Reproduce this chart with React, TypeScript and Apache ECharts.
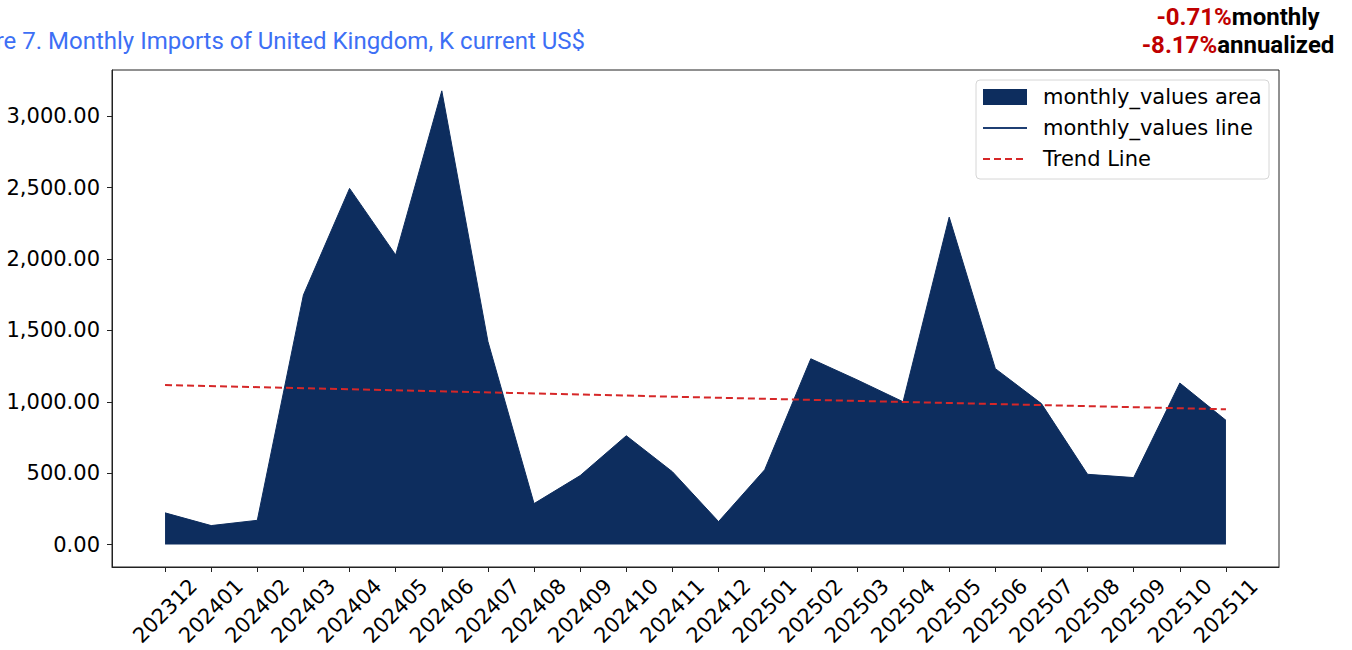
import React, { useEffect, useRef } from "react";
import * as echarts from "echarts";

const categories = [
  "202312", "202401", "202402", "202403", "202404", "202405", "202406", "202407",
  "202408", "202409", "202410", "202411", "202412", "202501", "202502", "202503",
  "202504", "202505", "202506", "202507", "202508", "202509", "202510", "202511",
];
const monthlyValues = [
  222, 133, 170, 1748, 2494, 2028, 3177, 1422,
  287, 483, 762, 510, 161, 524, 1301, 1154,
  1000, 2293, 1232, 987, 492, 469, 1131, 870,
];
const trendStart = 1117;
const trendEnd = 947;
const yTicks = [0, 500, 1000, 1500, 2000, 2500, 3000];
const titleText = "Figure 7. Monthly Imports of United Kingdom, K current US$";
const monthlyPct = "-0.71%";
const annualPct = "-8.17%";
const legendNames = ["monthly_values area", "monthly_values line", "Trend Line"];

const AREA = "#0d2d5e";
const LINE = "#1f3f73";
const TREND = "#d62728";
const TICK_FONT = "DejaVu Sans";
const FS = 21;

export default function App() {
  const ref = useRef<HTMLDivElement>(null);
  useEffect(() => {
    if (!ref.current) return;
    const chart = echarts.init(ref.current, null, { renderer: "svg" });
    const pts = monthlyValues.map((v, i) => [i, v]);
    const n = categories.length;
    const trendPts = [
      [0, trendStart],
      [n - 1, trendEnd],
    ];
    const xTicks = categories.map((_, i) => i);
    const lx = 976;
    const ly = 80;
    chart.setOption({
      animation: false,
      grid: { left: 112, right: 73, top: 70, bottom: 83, show: false },
      xAxis: {
        type: "value",
        min: -1.15,
        max: n - 1 + 1.15,
        axisLine: { show: true, onZero: false, lineStyle: { color: "#222", width: 1 } },
        axisTick: {
          show: true,
          length: 5,
          customValues: xTicks,
          lineStyle: { color: "#222" },
        },
        splitLine: { show: false },
        axisLabel: {
          customValues: xTicks,
          rotate: 45,
          align: "center",
          verticalAlign: "middle",
          margin: 44,
          fontFamily: TICK_FONT,
          fontSize: FS,
          color: "#000",
          formatter: (v: number) => categories[Math.round(v)] ?? "",
        },
      },
      yAxis: {
        type: "value",
        min: -157,
        max: 3323,
        axisLine: { show: true, onZero: false, lineStyle: { color: "#222", width: 1 } },
        axisTick: {
          show: true,
          length: 5,
          customValues: yTicks,
          lineStyle: { color: "#222" },
        },
        splitLine: { show: false },
        axisLabel: {
          customValues: yTicks,
          margin: 12,
          fontFamily: TICK_FONT,
          fontSize: FS,
          color: "#000",
          formatter: (v: number) =>
            v.toLocaleString("en-US", { minimumFractionDigits: 2, maximumFractionDigits: 2 }),
        },
      },
      series: [
        {
          name: legendNames[0],
          type: "line",
          data: pts,
          showSymbol: false,
          symbol: "none",
          lineStyle: { width: 0 },
          areaStyle: { color: AREA, opacity: 1 },
          clip: false,
          z: 2,
        },
        {
          name: legendNames[1],
          type: "line",
          data: pts,
          symbol: "none",
          lineStyle: { color: AREA, width: 1 },
          z: 3,
        },
        {
          name: legendNames[2],
          type: "line",
          data: trendPts,
          symbol: "none",
          lineStyle: { color: TREND, width: 2, type: [7, 4] },
          z: 4,
        },
      ],
      graphic: [
        {
          type: "rect",
          shape: { x: 112, y: 70, width: 1167, height: 497 },
          style: { fill: "none", stroke: "#222", lineWidth: 1 },
          silent: true,
          z: 10,
        },
        {
          type: "text",
          x: 585,
          y: 41,
          style: {
            text: titleText,
            fontFamily: "Roboto",
            fontSize: 24,
            fill: "#3d6ff5",
            align: "right",
            verticalAlign: "middle",
          },
        },
        {
          type: "text",
          x: 1238,
          y: 3,
          style: {
            text: `{r|${monthlyPct}}{b|monthly}\n{r|${annualPct}}{b|annualized}`,
            align: "center",
            verticalAlign: "top",
            rich: {
              r: { fill: "#c00000", fontFamily: "Roboto", fontWeight: "bold", fontSize: 24, lineHeight: 28 },
              b: { fill: "#000", fontFamily: "Roboto", fontWeight: "bold", fontSize: 24, lineHeight: 28 },
            },
          },
        },
        {
          type: "group",
          z: 20,
          children: [
            {
              type: "rect",
              shape: { x: lx, y: ly, width: 293, height: 99, r: 4 },
              style: { fill: "rgba(255,255,255,0.8)", stroke: "#d6d6d6", lineWidth: 1 },
            },
            {
              type: "rect",
              shape: { x: 983, y: 89, width: 44, height: 16 },
              style: { fill: AREA },
            },
            {
              type: "line",
              shape: { x1: 983, y1: 128, x2: 1027, y2: 128 },
              style: { stroke: LINE, lineWidth: 2 },
            },
            {
              type: "line",
              shape: { x1: 983, y1: 159, x2: 1027, y2: 159 },
              style: { stroke: TREND, lineWidth: 2, lineDash: [7, 4] },
            },
            ...legendNames.map((name, i) => ({
              type: "text",
              x: 1043,
              y: 97 + i * 31,
              style: {
                text: name,
                fontFamily: TICK_FONT,
                fontSize: FS,
                fill: "#000",
                verticalAlign: "middle",
              },
            })),
          ],
        },
      ],
    });
    return () => chart.dispose();
  }, []);
  return <div ref={ref} style={{ width: 1352, height: 650, position: "absolute", left: 0, top: 0 }} />;
}
